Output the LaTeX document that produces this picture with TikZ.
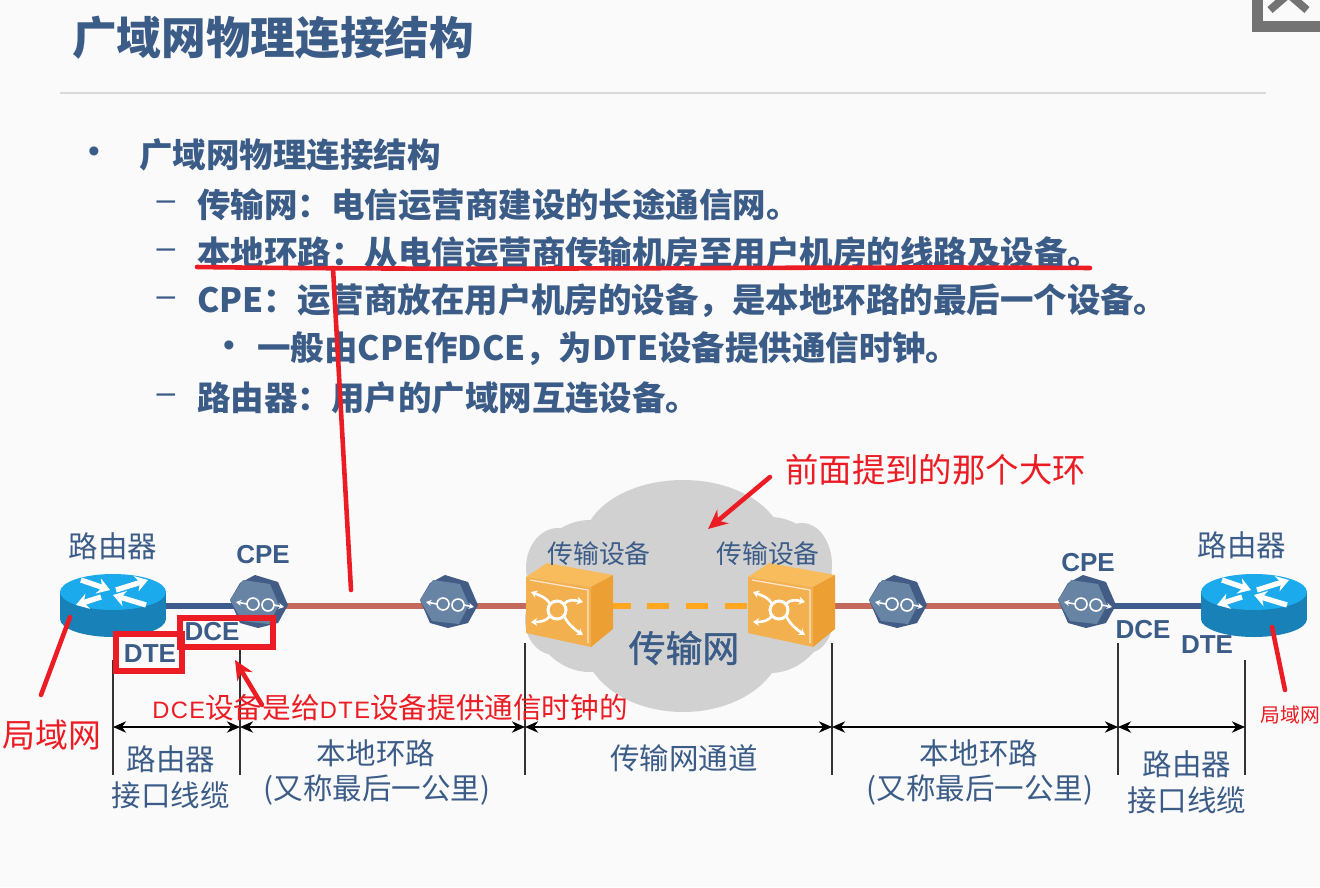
\documentclass[tikz,border=0pt]{standalone}
\usepackage{fontspec}
\setmainfont{Noto Sans CJK SC}
\newfontfamily\latinfont{Liberation Sans}
\newfontfamily\heavyfont[FakeBold=1.2]{Noto Sans CJK SC}
\usetikzlibrary{arrows.meta}
\definecolor{slideblue}{HTML}{3C5C88}
\definecolor{markred}{HTML}{EC1C24}
\definecolor{linkred}{HTML}{C46A5C}
\definecolor{linkblue}{HTML}{3B5C8C}
\definecolor{linkorange}{HTML}{FFA61F}
\tikzset{
	base/.style={inner sep=0, text=slideblue},
	heading/.style={base, anchor=west, font=\bfseries\fontsize{25.4}{30}\selectfont},
	item/.style={base, anchor=west, font=\bfseries\fontsize{19.05}{23}\selectfont},
	dashitem/.style={base, font=\latinfont\fontsize{19}{23}\selectfont},
	caption/.style={base, font=\fontsize{16.8}{20}\selectfont},
	device/.style={base, font=\fontsize{14.7}{18}\selectfont},
	tag/.style={base, font=\latinfont\bfseries\fontsize{14.8}{18}\selectfont},
	note/.style={inner sep=0, text=markred, anchor=west},
	markbox/.style={draw=markred, line width=3pt},
	markline/.style={draw=markred, line width=2.6pt, line cap=round},
	markarrow/.style={markline, -{Stealth[length=11pt, width=10pt]}},
	span/.style={draw=black!80, line width=0.6pt},
	spanarrow/.style={draw=black, line width=0.6pt, {Stealth[length=7.5pt, width=6.5pt]}-{Stealth[length=7.5pt, width=6.5pt]}},
	routerarrow/.style={draw=white, line width=3pt, -{Stealth[length=7pt, width=9pt]}},
	boxarrow/.style={draw=white, line width=1.5pt, -{Stealth[length=3.5pt, width=4.5pt]}}
}
\def\routericon(#1){
	\begin{scope}[shift={(#1)}]
		\fill[color={rgb,255:red,23;green,129;blue,184}] (-53,0) rectangle (53,27);
		\fill[color={rgb,255:red,23;green,129;blue,184}] (0,27) ellipse (53 and 18);
		\fill[color={rgb,255:red,27;green,170;blue,235}] (0,0) ellipse (53 and 18);
		\draw[routerarrow] (-32,-12) -- (-3,-2);
		\draw[routerarrow] (3,-2) -- (35,-12);
		\draw[routerarrow] (-12,5) -- (-37,13);
		\draw[routerarrow] (33,13) -- (0,3);
	\end{scope}
}
\def\hexicon(#1){
	\begin{scope}[shift={(#1)}]
		\fill[color={rgb,255:red,66;green,92;blue,134}] (-29,-2) -- (-19,-19) -- (-4,-27) -- (19,-20) -- (29,3) -- (19,21) -- (-1,26) -- (-19,21) -- cycle;
		\fill[color={rgb,255:red,104;green,132;blue,164}] (-29,-2) -- (-16,-22) -- (11,-18) -- (20,3) -- (10,22) -- (-17,19) -- cycle;
		\draw[white, line width=0.9pt] (-6,2) circle (6);
		\draw[white, line width=0.9pt] (9,3) circle (6);
		\draw[white, line width=0.9pt, -{Stealth[length=3pt, width=3.5pt]}] (-12,2) -- (-23,0);
		\draw[white, line width=0.9pt, -{Stealth[length=3pt, width=3.5pt]}] (15,3) -- (25,5);
	\end{scope}
}
\def\boxicon(#1){
	\begin{scope}[shift={(#1)}]
		\fill[color={rgb,255:red,249;green,188;blue,92}] (0,0) -- (21,-14) -- (87,-2) -- (65,10) -- cycle;
		\fill[color={rgb,255:red,236;green,160;blue,51}] (65,10) -- (87,-2) -- (87,52) -- (65,70) -- cycle;
		\fill[color={rgb,255:red,243;green,176;blue,79}] (0,0) -- (65,10) -- (65,70) -- (0,56) -- cycle;
		\draw[white!80!orange, line width=0.7pt] (4,3) -- (62,13) -- (62,66);
		\draw[white, line width=1.7pt] (31,33) circle (9);
		\draw[boxarrow] (24,27) .. controls (20,20) and (15,19) .. (5,15);
		\draw[boxarrow] (38,27) .. controls (42,22) and (48,23) .. (57,25);
		\draw[boxarrow] (24,39) .. controls (20,44) and (15,45) .. (5,45);
		\draw[boxarrow] (38,39) .. controls (42,47) and (48,52) .. (57,58);
	\end{scope}
}

\begin{document}
\begin{tikzpicture}[x=0.02cm, y=-0.02cm]
		%%%%% START %%%%%
		\clip (0,0) rectangle (1320,887);
		\fill[color=black!2] (0,0) rectangle (1320,887);
		
		\draw[color=black!55, line width=6pt] (1257.5,-5) -- (1257.5,26.5) -- (1325,26.5);
		\draw[color=black!55, line width=4.5pt] (1270,10) -- (1285,-3);
		\draw[color=black!55, line width=4.5pt] (1307,10) -- (1292,-3);
		
		\node[heading] (title) at (72,38) {广域网物理连接结构};
		\draw[color=black!15, line width=0.9pt] (60,93) -- (1266,93);
		
		\node[dashitem] (bulletone) at (94,155) {•};
		\node[item] (itemone) at (139,155) {广域网物理连接结构};
		\node[dashitem] (dashone) at (166,206) {–};
		\node[item] (itemtwo) at (197,205) {传输网：电信运营商建设的长途通信网。};
		\node[dashitem] (dashtwo) at (166,254) {–};
		\node[item] (itemthree) at (197,253) {本地环路：从电信运营商传输机房至用户机房的线路及设备。};
		\node[dashitem] (dashthree) at (166,302) {–};
		\node[item] (itemfour) at (197,301) {CPE：运营商放在用户机房的设备，是本地环路的最后一个设备。};
		\node[dashitem] (bullettwo) at (229,349) {•};
		\node[item] (itemfive) at (257,349) {一般由CPE作DCE，为DTE设备提供通信时钟。};
		\node[dashitem] (dashfour) at (166,399) {–};
		\node[item] (itemsix) at (197,398) {路由器：用户的广域网互连设备。};
		
		% cloud
		\fill[color=black!18] (683,545) ellipse (100 and 65) (590,596) ellipse (64 and 76) (770,595) ellipse (64 and 78) (683,640) ellipse (100 and 72) (555,620) ellipse (30 and 35) (808,615) ellipse (26 and 38) (558,568) ellipse (32 and 40) (802,565) ellipse (30 and 42);
		
		% links
		\coordinate (routerl) at (113,606);
		\coordinate (cpel) at (259,606);
		\coordinate (hexl) at (449,606);
		\coordinate (boxl) at (570,606);
		\coordinate (boxr) at (790,606);
		\coordinate (hexr) at (898,606);
		\coordinate (cper) at (1087,606);
		\coordinate (routerr) at (1253,606);
		\draw[color=linkblue, line width=3.4pt] (routerl) -- (cpel);
		\draw[color=linkred, line width=3.4pt] (cpel) -- (hexl) -- (boxl);
		\draw[color=linkorange, line width=3pt, dash pattern=on 12.5pt off 9.5pt] (boxl) -- (boxr);
		\draw[color=linkred, line width=3.4pt] (boxr) -- (hexr) -- (cper);
		\draw[color=linkblue, line width=3.4pt] (cper) -- (routerr);
		
		\routericon(113,592);
		\routericon(1254,592);
		\hexicon(259,602);
		\hexicon(449,602);
		\hexicon(898,602);
		\hexicon(1087,602);
		\boxicon(526,577);
		\boxicon(748,577);
		
		\node[caption] (routerlabl) at (113,546) {路由器};
		\node[caption] (routerlabr) at (1242,545) {路由器};
		\node[device] (devl) at (599,554) {传输设备};
		\node[device] (devr) at (768,554) {传输设备};
		\node[base, font=\heavyfont\fontsize{21}{25}\selectfont] (transnet) at (684,648) {传输网};
		\node[tag] (cpelabl) at (263,555) {CPE};
		\node[tag] (cpelabr) at (1088,563) {CPE};
		\node[tag] (dcel) at (212,632) {DCE};
		\node[tag] (dtel) at (150,654) {DTE};
		\node[tag] (dcer) at (1143,630) {DCE};
		\node[tag] (dter) at (1207,645) {DTE};
		
		% spans
		\foreach \pos/\low/\up in {a/113/660, b/240/650, c/525/643, d/832/643, e/1118/643, f/1245/660}{
			\coordinate (\pos-top) at (\low,\up);
			\coordinate (\pos-mid) at (\low,727);
			\coordinate (\pos-end) at (\low,775);
			\draw[span] (\pos-top) -- (\pos-end);
		}
		\draw[spanarrow] (a-mid) -- (b-mid);
		\draw[spanarrow] (b-mid) -- (c-mid);
		\draw[spanarrow] (c-mid) -- (d-mid);
		\draw[spanarrow] (d-mid) -- (e-mid);
		\draw[spanarrow] (e-mid) -- (f-mid);
		
		\node[caption] (cablela) at (171,759) {路由器};
		\node[caption] (cablelb) at (171,795) {接口线缆};
		\node[caption] (looplabla) at (376,753) {本地环路};
		\node[caption] (looplablb) at (377,790) {(又称最后一公里)};
		\node[caption] (tunnel) at (684,758) {传输网通道};
		\node[caption] (looplabra) at (979,753) {本地环路};
		\node[caption] (looplabrb) at (980,790) {(又称最后一公里)};
		\node[caption] (cablera) at (1187,764) {路由器};
		\node[caption] (cablerb) at (1187,800) {接口线缆};
		
		% red marks
		\coordinate (lineleft) at (197,267);
		\coordinate (lineright) at (1090,268);
		\coordinate (linedrop) at (333,268);
		\coordinate (linefoot) at (351,590);
		\draw[markline] (lineleft) .. controls (500,271) and (800,266) .. (lineright);
		\draw[markline] (linedrop) -- (linefoot);
		\draw[markbox] (116,634) rectangle (182,671);
		\draw[markbox] (180,618) rectangle (273,647);
		
		\node[note, font=\fontsize{19}{23}\selectfont] (biglabel) at (785,470) {前面提到的那个大环};
		\node[note, font=\fontsize{18.7}{23}\selectfont] (lanl) at (2,735) {局域网};
		\node[note, font=\fontsize{11.3}{14}\selectfont] (lanr) at (1260,715) {局域网};
		\node[note, font=\fontsize{16.3}{19}\selectfont] (clocknote) at (152,708) {{\latinfont\fontsize{13.5}{16}\selectfont\addfontfeature{LetterSpace=6}DCE}设备是给{\latinfont\fontsize{13.5}{16}\selectfont\addfontfeature{LetterSpace=6}DTE}设备提供通信时钟的};
		
		\coordinate (bigstart) at (770,477);
		\coordinate (bigtip) at (708,529);
		\coordinate (clockstart) at (262,705);
		\coordinate (clocktip) at (235,660);
		\coordinate (lanltop) at (70,617);
		\coordinate (lanlend) at (41,695);
		\coordinate (lanrtop) at (1272,627);
		\coordinate (lanrend) at (1285,690);
		\draw[markarrow] (bigstart) -- (bigtip);
		\draw[markarrow] (clockstart) -- (clocktip);
		\draw[markline] (lanltop) -- (lanlend);
		\draw[markline] (lanrtop) -- (lanrend);
		%%%%% END %%%%%
	\end{tikzpicture}
\end{document}
